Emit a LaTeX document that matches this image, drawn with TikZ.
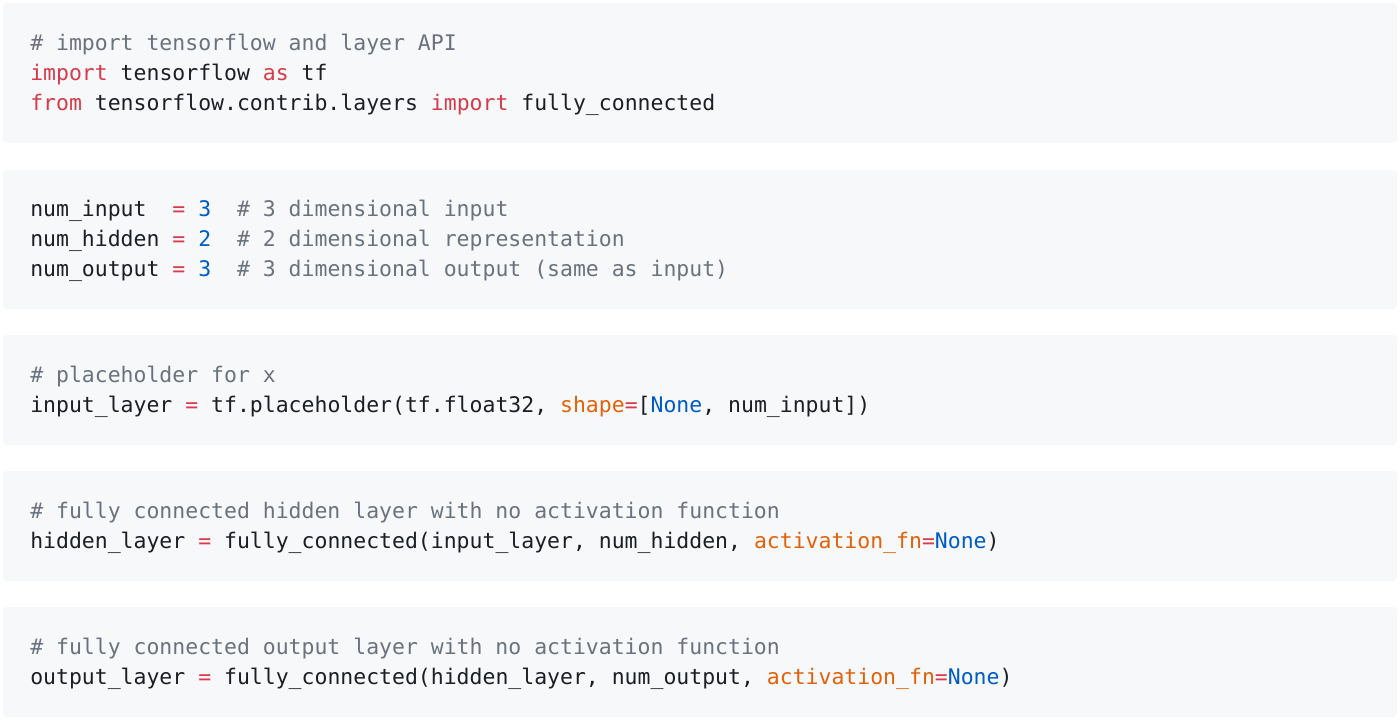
\documentclass[tikz,border=0pt]{standalone}
\usepackage{fontspec}
\setmonofont{DejaVu Sans Mono}
\definecolor{bgc}{HTML}{F6F8FA}
\definecolor{cmc}{HTML}{6A737D}
\definecolor{kwc}{HTML}{D73A49}
\definecolor{nmc}{HTML}{005CC5}
\definecolor{orc}{HTML}{E36209}
\definecolor{txc}{HTML}{1B1F23}
\newcommand{\kwd}[1]{\textcolor{kwc}{#1}}
\newcommand{\cmt}[1]{\textcolor{cmc}{#1}}
\newcommand{\nmb}[1]{\textcolor{nmc}{#1}}
\newcommand{\orn}[1]{\textcolor{orc}{#1}}
\begin{document}
\begin{tikzpicture}[x=0.75pt,y=-0.75pt,
  blk/.style={fill=bgc,draw=none,rounded corners=3pt},
  code/.style={anchor=west,inner sep=0pt,text=txc,font=\ttfamily\fontsize{16.1pt}{18pt}\selectfont}]
\useasboundingbox (0,0) rectangle (1400,722);
\fill[white] (0,0) rectangle (1400,722);
\fill[blk] (3,3) rectangle (1397,143);
\fill[blk] (3,170) rectangle (1397,309);
\fill[blk] (3,335) rectangle (1397,445);
\fill[blk] (3,471) rectangle (1397,581);
\fill[blk] (3,607) rectangle (1397,717);
\node[code] (l1) at (30,45) {\cmt{\# import tensorflow and layer API}};
\node[code] (l2) at (30,75) {\kwd{import} tensorflow \kwd{as} tf};
\node[code] (l3) at (30,105) {\kwd{from} tensorflow.contrib.layers \kwd{import} fully\_connected};
\node[code] (l4) at (30,211) {num\_input~~\kwd{=} \nmb{3}~~\cmt{\# 3 dimensional input}};
\node[code] (l5) at (30,241) {num\_hidden \kwd{=} \nmb{2}~~\cmt{\# 2 dimensional representation}};
\node[code] (l6) at (30,271) {num\_output \kwd{=} \nmb{3}~~\cmt{\# 3 dimensional output (same as input)}};
\node[code] (l7) at (30,377) {\cmt{\# placeholder for x}};
\node[code] (l8) at (30,407) {input\_layer \kwd{=} tf.placeholder(tf.float32, \orn{shape}\kwd{=}[\nmb{None}, num\_input])};
\node[code] (l9) at (30,513) {\cmt{\# fully connected hidden layer with no activation function}};
\node[code] (l10) at (30,543) {hidden\_layer \kwd{=} fully\_connected(input\_layer, num\_hidden, \orn{activation\_fn}\kwd{=}\nmb{None})};
\node[code] (l11) at (30,649) {\cmt{\# fully connected output layer with no activation function}};
\node[code] (l12) at (30,679) {output\_layer \kwd{=} fully\_connected(hidden\_layer, num\_output, \orn{activation\_fn}\kwd{=}\nmb{None})};
\end{tikzpicture}
\end{document}
